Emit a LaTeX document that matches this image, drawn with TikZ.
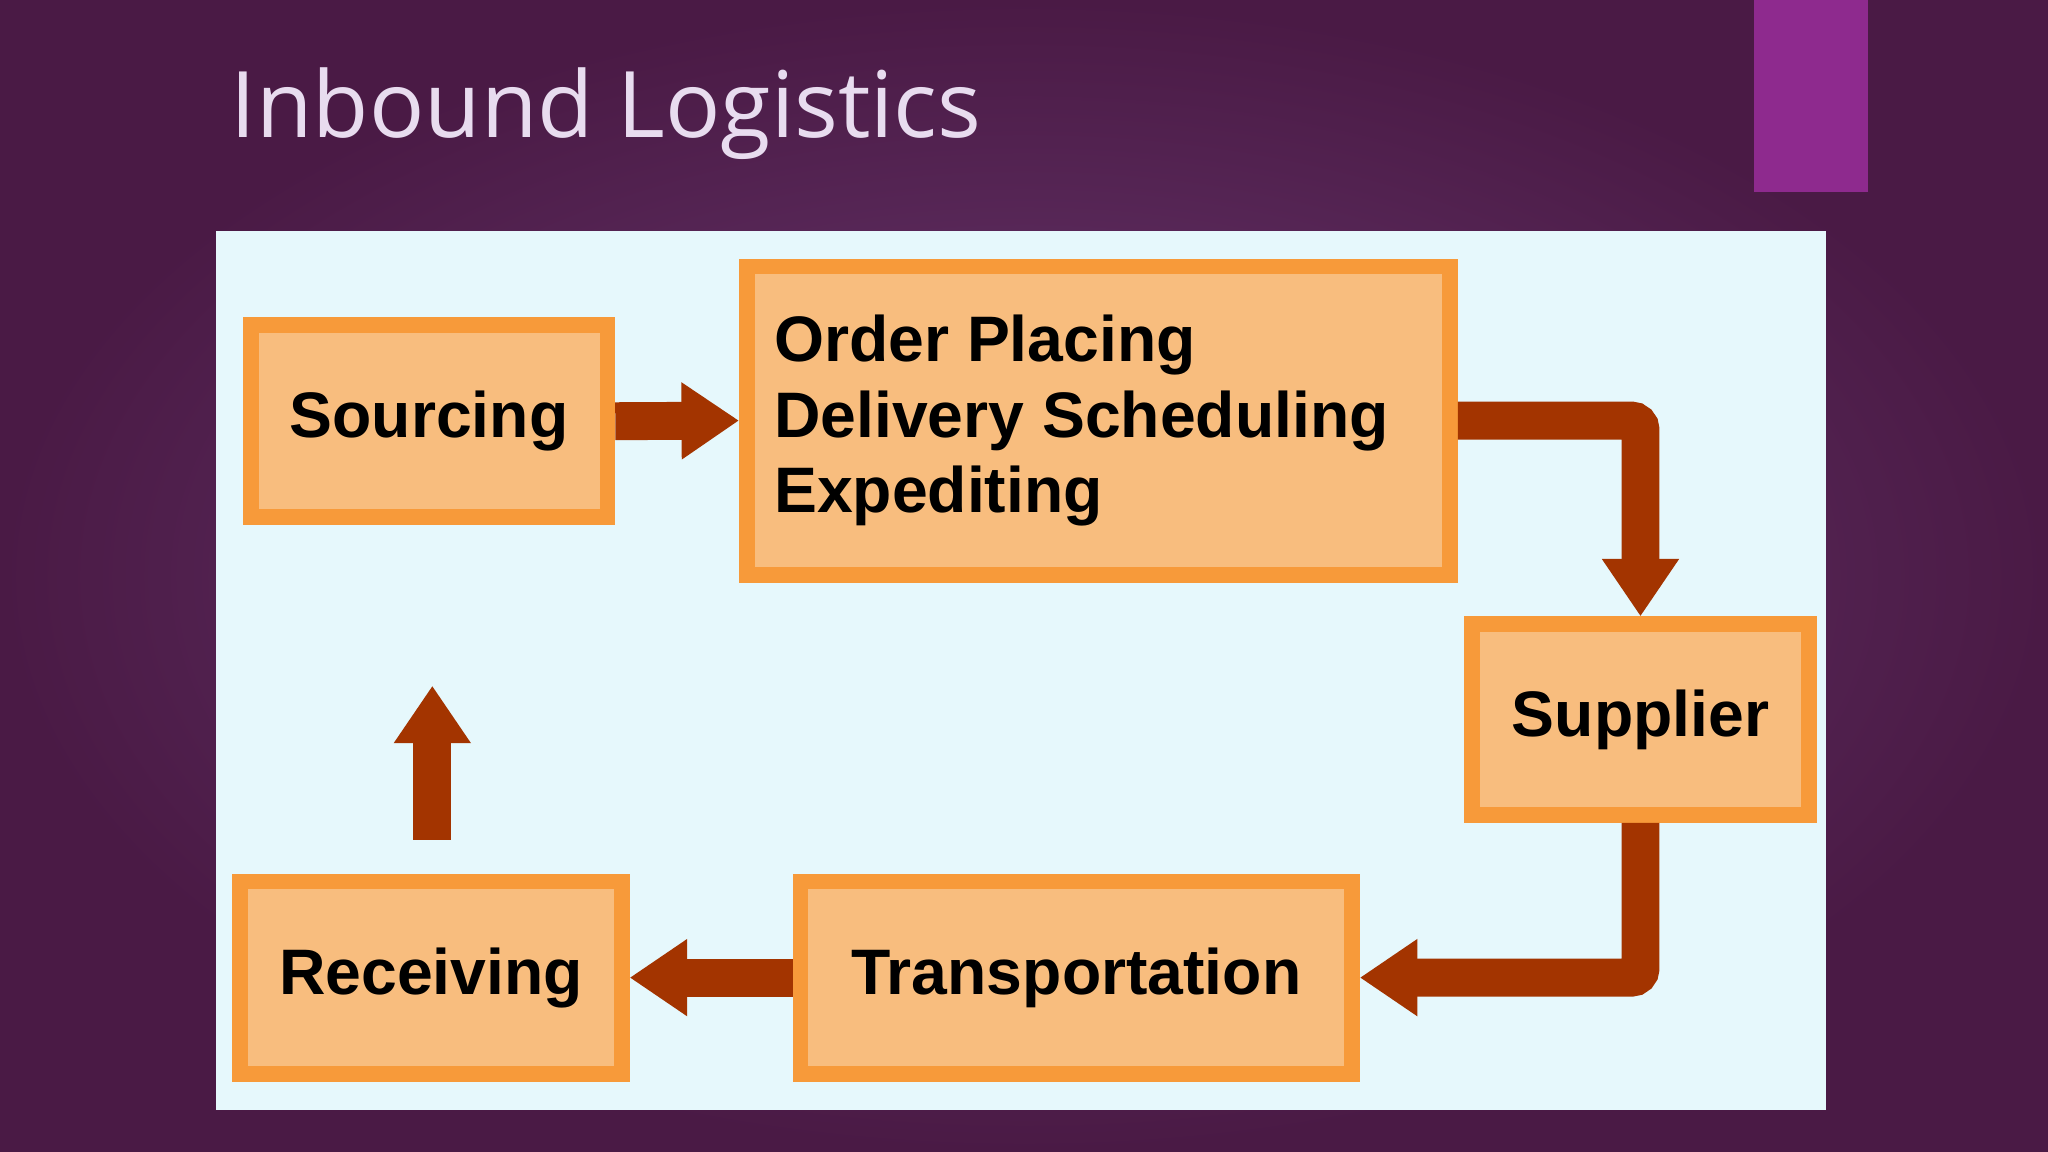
\documentclass[tikz,border=0pt]{standalone}
\usepackage{fontspec}
\setmainfont{Liberation Sans}
\newfontfamily\titlefont{Open Sans}
\usetikzlibrary{arrows.meta}
\definecolor{bgdark}{HTML}{4A1A45}
\definecolor{bglight}{HTML}{6B3A72}
\definecolor{panel}{HTML}{E6F8FC}
\definecolor{boxfill}{HTML}{F8BD7E}
\definecolor{boxline}{HTML}{F79A3A}
\definecolor{arr}{HTML}{A33400}
\definecolor{mag}{HTML}{8E2A8E}
\definecolor{titlec}{HTML}{E8DCEF}
\tikzset{
  box/.style={draw=boxline, line width=1.2mm, fill=boxfill, font=\bfseries\fontsize{14}{16}\selectfont, inner sep=0pt},
  flow/.style={draw=arr, line width=0.29cm, rounded corners=2pt, -{Triangle[length=0.44cm,width=0.56cm]}}
}
\begin{document}
\begin{tikzpicture}[x=0.01cm,y=-0.01cm]
\useasboundingbox (0,0) rectangle (1568,882);
\shade[inner color=bglight, outer color=bgdark] (0,0) rectangle (1568,882);
\fill[mag] (1343,0) rectangle (1430,147);
\node[anchor=base west, text=titlec, inner sep=0pt, font=\titlefont\fontsize{20}{24}\selectfont] (title) at (176,105) {Inbound Logistics};
\fill[panel] (165,177) rectangle (1398,850);
\node[box, minimum width=2.73cm, minimum height=1.47cm] (src) at (328.5,322.5) {Sourcing};
\node[box, minimum width=5.38cm, minimum height=2.36cm] (ord) at (841,322) {};
\node[anchor=west, align=left, font=\bfseries\fontsize{14}{16.5}\selectfont, inner sep=0pt] (ordt) at (592,322) {Order Placing\\Delivery Scheduling\\Expediting};
\node[box, minimum width=2.58cm, minimum height=1.46cm] (sup) at (1256,551) {Supplier};
\node[box, minimum width=4.22cm, minimum height=1.47cm] (tra) at (824,748.5) {Transportation};
\node[box, minimum width=2.92cm, minimum height=1.47cm] (rec) at (330,748.5) {Receiving};
\draw[flow] (src.east) -- (ord.west);
\draw[flow] (ord.east |- 0,322) -| (sup.north);
\draw[flow] (sup.south) |- (tra.east);
\draw[flow] (tra.west) -- (rec.east);
\coordinate (ua) at (331,643);
\coordinate (ub) at (331,525);
\draw[flow] (ua) -- (ub);
\end{tikzpicture}
\end{document}
